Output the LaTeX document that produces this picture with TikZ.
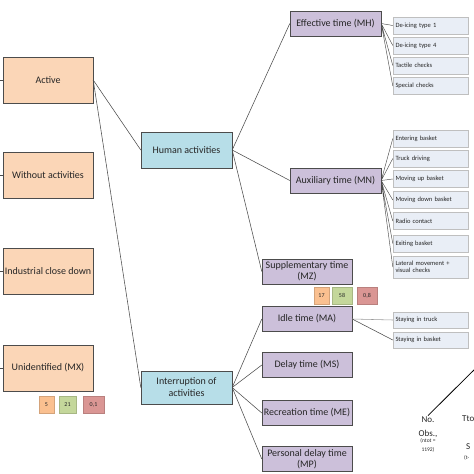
\documentclass[tikz,border=0pt]{standalone}
\usepackage{fontspec}
\setmainfont{Carlito}
\usetikzlibrary{positioning}
\definecolor{stateOrange}{RGB}{251,214,183}
\definecolor{groupBlue}{RGB}{183,222,232}
\definecolor{timePurple}{RGB}{204,192,218}
\definecolor{taskGrey}{RGB}{233,238,246}
\definecolor{countOrange}{RGB}{250,192,144}
\definecolor{countGreen}{RGB}{196,215,155}
\definecolor{countRed}{RGB}{218,150,148}
\colorlet{edgeGrey}{black!70}

\begin{document}
\begin{tikzpicture}[x=1pt,y=-1pt,
  every node/.style={text=black!85,inner sep=1pt},
  state/.style={draw=black!70,fill=stateOrange,minimum width=90pt,minimum height=46pt,font=\fontsize{10}{12}\selectfont},
  group/.style={draw=black!70,fill=groupBlue,minimum width=91pt,align=center,font=\fontsize{10}{12}\selectfont},
  timebox/.style={draw=black!70,fill=timePurple,minimum width=90pt,minimum height=25pt,align=center,font=\fontsize{10}{11}\selectfont},
  task/.style={draw=black!25,fill=taskGrey,minimum height=17pt,text width=70pt,inner xsep=2.5pt,align=left,font=\fontsize{6.5}{7.5}\selectfont},
  count/.style={minimum height=17pt,font=\fontsize{6}{7}\selectfont},
  link/.style={draw=edgeGrey,line width=0.55pt}]
\useasboundingbox (0,0) rectangle (474,474);
\clip (0,0) rectangle (474,474);

% states
\node[state] (active) at (48,80) {Active};
\node[state] (noact) at (48,175) {Without activities};
\node[state] (closedown) at (48,271) {Industrial close down};
\node[state] (unident) at (48,368) {Unidentified (MX)};
\node[count,draw=countOrange!85!black,fill=countOrange,minimum width=15pt] (unidA) at (46.5,404.5) {5};
\node[count,draw=countGreen!85!black,fill=countGreen,minimum width=17pt] (unidB) at (67.5,404.5) {21};
\node[count,draw=countRed!85!black,fill=countRed,minimum width=21pt] (unidC) at (93.5,404.5) {0,1};

% groups
\node[group,minimum height=36pt] (human) at (186.5,150) {Human activities};
\node[group,minimum height=33pt] (interrupt) at (186.5,387.5) {Interruption of\\activities};

% times
\node[timebox,minimum width=91pt] (effective) at (335.5,23.5) {Effective time (MH)};
\node[timebox,minimum width=91pt] (auxiliary) at (335.5,180.5) {Auxiliary time (MN)};
\node[timebox] (supplement) at (307,271.5) {Supplementary time\\(MZ)};
\node[timebox] (idle) at (307,319) {Idle time (MA)};
\node[timebox] (delay) at (307,365) {Delay time (MS)};
\node[timebox] (recreation) at (307,413) {Recreation time (ME)};
\node[timebox] (personal) at (307,459) {Personal delay time\\(MP)};
\node[count,draw=countOrange!85!black,fill=countOrange,minimum width=15pt] (suppA) at (321.5,295.5) {17};
\node[count,draw=countGreen!85!black,fill=countGreen,minimum width=20pt] (suppB) at (342,295.5) {58};
\node[count,draw=countRed!85!black,fill=countRed,minimum width=20pt] (suppC) at (367,295.5) {0,8};

% tasks
\node[task] (deice1) at (430.5,25.5) {De-icing type 1};
\node[task] (deice4) at (430.5,45.5) {De-icing type 4};
\node[task] (tactile) at (430.5,65.5) {Tactile checks};
\node[task] (special) at (430.5,86) {Special checks};
\node[task] (enter) at (430.5,138.5) {Entering basket};
\node[task] (truck) at (430.5,158.5) {Truck driving};
\node[task] (moveup) at (430.5,179) {Moving up basket};
\node[task] (movedown) at (430.5,200) {Moving down basket};
\node[task] (radio) at (430.5,221) {Radio contact};
\node[task] (exit) at (430.5,243.5) {Exiting basket};
\node[task,minimum height=22pt,inner ysep=1.5pt,font=\fontsize{6.5}{7}\selectfont] (lateral) at (430.5,267) {Lateral movement +\\visual checks};
\node[task,minimum height=16pt] (staytruck) at (430.5,320) {Staying in truck};
\node[task,minimum height=16pt] (staybasket) at (430.5,340) {Staying in basket};

% cut-off table head
\node[align=center,font=\fontsize{9}{13.5}\selectfont] (nobs) at (428,427) {No.\\Obs.,};
\node[align=center,font=\fontsize{5.5}{9}\selectfont,below=-1pt of nobs] (ntot) {(ntot =\\1192)};
\node[anchor=west,font=\fontsize{9}{10}\selectfont] (ttot) at (461,419) {Ttot};
\node[anchor=west,font=\fontsize{9}{10}\selectfont] (tsub) at (465,447) {S};
\node[anchor=west,font=\fontsize{5.5}{7}\selectfont] (tpar) at (463,458) {(t-};
\coordinate (head) at (482,362);

% links
\draw[link] (active.east) -- (human.west);
\draw[link] (active.east) -- (interrupt.west);
\draw[link] (noact.west) -- ++(-5,0);
\draw[link] (active.west) -- ++(-5,0);
\draw[link] (closedown.west) -- ++(-5,0);
\draw[link] (unident.west) -- ++(-5,0);
\draw[link] (human.east) -- (effective.west);
\draw[link] (human.east) -- (auxiliary.west);
\draw[link] (human.east) -- (supplement.west);
\draw[link] (interrupt.east) -- (idle.west);
\draw[link] (interrupt.east) -- (delay.west);
\draw[link] (interrupt.east) -- (recreation.west);
\draw[link] (interrupt.east) -- (personal.west);
\draw[link,line width=0.45pt] (effective.east) -- (deice1.west) (effective.east) -- (deice4.west)
  (effective.east) -- (tactile.west) (effective.east) -- (special.west);
\draw[link,line width=0.45pt] (auxiliary.east) -- (enter.west) (auxiliary.east) -- (truck.west)
  (auxiliary.east) -- (moveup.west) (auxiliary.east) -- (movedown.west)
  (auxiliary.east) -- (radio.west) (auxiliary.east) -- (exit.west) (auxiliary.east) -- (lateral.west);
\draw[link,draw=black!40] (idle.east) -- (staytruck.west);
\draw[link] (idle.east) -- (staybasket.west);
\draw[black,line width=0.8pt] (nobs.north) -- (head);
\end{tikzpicture}
\end{document}
